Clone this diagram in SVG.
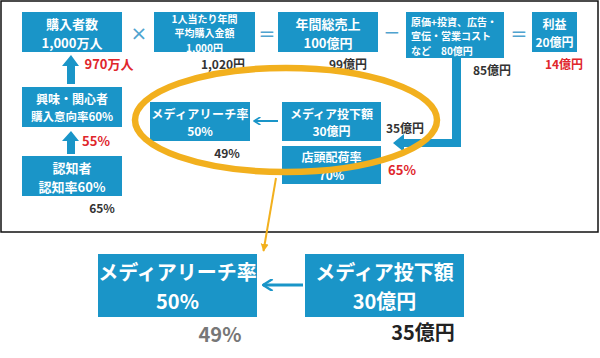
<svg xmlns="http://www.w3.org/2000/svg" width="600" height="358" viewBox="0 0 600 358">
<style>
.box{fill:#1A95C8}
.bt{fill:#fff;font-family:"Noto Sans CJK JP","Noto Sans",sans-serif;font-weight:bold;font-size:12px;text-anchor:middle;dominant-baseline:central}
.bt2{fill:#fff;font-family:"Noto Sans CJK JP","Noto Sans",sans-serif;font-weight:bold;font-size:10px;dominant-baseline:central}
.num{fill:#333;font-family:"Noto Sans CJK JP","Noto Sans",sans-serif;font-size:12px;font-weight:bold;text-anchor:middle;dominant-baseline:central}
.red{fill:#E0262B}
.op{fill:#4FA3CF;font-family:"DejaVu Sans",sans-serif;font-size:20px;text-anchor:middle;dominant-baseline:central}
.big{fill:#fff;font-family:"Noto Sans CJK JP","Noto Sans",sans-serif;font-weight:bold;font-size:20px;text-anchor:middle;dominant-baseline:central}
.bignum{font-family:"Noto Sans CJK JP","Noto Sans",sans-serif;font-size:20px;font-weight:bold;text-anchor:middle;dominant-baseline:central}
</style>
<defs>
<marker id="chev" viewBox="0 0 10 10" refX="9" refY="5" markerWidth="4" markerHeight="4" orient="auto" markerUnits="strokeWidth">
<path d="M1,0 L9,5 L1,10" fill="none" stroke="#1A95C8" stroke-width="2"/>
</marker>
<marker id="oarr" viewBox="0 0 10 10" refX="9" refY="5" markerWidth="4" markerHeight="5" orient="auto" markerUnits="strokeWidth">
<path d="M0,0 L10,5 L0,10 z" fill="#F2B01E"/>
</marker>
</defs>
<rect width="600" height="358" fill="#fff"/>
<rect x="1" y="1" width="597" height="231" fill="none" stroke="#111" stroke-width="1.5"/>

<g id="n1"><rect class="box" x="22" y="12" width="100" height="40"/><text class="bt" style="font-size:13px"><tspan x="72" y="22.5">購入者数</tspan><tspan x="72" y="41.5">1,000万人</tspan></text></g>
<g id="n2"><rect class="box" x="154" y="12" width="101" height="40"/><text class="bt" style="font-size:10px"><tspan x="204.5" y="17.5">1人当たり年間</tspan><tspan x="204.5" y="32">平均購入金額</tspan><tspan x="204.5" y="46.5">1,000円</tspan></text></g>
<g id="n3"><rect class="box" x="278" y="12" width="100" height="40"/><text class="bt" style="font-size:13px"><tspan x="328" y="22.5">年間総売上</tspan><tspan x="328" y="41.5">100億円</tspan></text></g>
<g id="n4"><rect class="box" x="406" y="12" width="98" height="46"/><text class="bt2"><tspan x="411" y="20.5">原価+投資、広告・</tspan><tspan x="411" y="35">宣伝・営業コスト</tspan><tspan x="411" y="49.5">など　80億円</tspan></text></g>
<g id="n5"><rect class="box" x="532" y="12" width="45" height="40"/><text class="bt" style="font-size:12px"><tspan x="554.5" y="23.3">利益</tspan><tspan x="554.5" y="40.8">20億円</tspan></text></g>
<g id="n6"><rect class="box" x="22" y="87" width="100" height="40"/><text class="bt"><tspan x="72" y="98.3">興味・関心者</tspan><tspan x="72" y="115.7" style="font-size:11.5px">購入意向率60%</tspan></text></g>
<g id="n7"><rect class="box" x="22" y="156" width="100" height="40"/><text class="bt" style="font-size:13px"><tspan x="72" y="166.5">認知者</tspan><tspan x="72" y="185.5">認知率60%</tspan></text></g>
<g id="n8"><rect class="box" x="150" y="102" width="100" height="39"/><text class="bt"><tspan x="200" y="112.8" letter-spacing="0.3">メディアリーチ率</tspan><tspan x="200" y="130.2">50%</tspan></text></g>
<g id="n9"><rect class="box" x="282" y="102" width="99" height="39"/><text class="bt"><tspan x="331.5" y="112.8">メディア投下額</tspan><tspan x="331.5" y="130.2">30億円</tspan></text></g>
<g id="n10"><rect class="box" x="282" y="146" width="99" height="38"/><text class="bt"><tspan x="331.5" y="156.3">店頭配荷率</tspan><tspan x="331.5" y="173.7">70%</tspan></text></g>

<g id="ops">
<text class="op" x="139" y="33">×</text>
<text class="op" x="267" y="33">=</text>
<text class="op" x="392" y="32">−</text>
<text class="op" x="519" y="33">=</text>
</g>

<g id="labels">
<text class="num red" x="109" y="63" style="font-size:13px">970万人</text>
<text class="num" x="223" y="63">1,020円</text>
<text class="num" x="348" y="63">99億円</text>
<text class="num" x="492" y="69">85億円</text>
<text class="num red" x="564" y="63">14億円</text>
<text class="num red" x="96" y="140" style="font-size:13px">55%</text>
<text class="num" x="102" y="207">65%</text>
<text class="num" x="227" y="152">49%</text>
<text class="num" x="405" y="127">35億円</text>
<text class="num red" x="402" y="169" style="font-size:13px">65%</text>
</g>

<g id="connectors">
<polygon fill="#1A95C8" points="71,55 79,66 75,66 75,84 67,84 67,66 62,66"/>
<polygon fill="#1A95C8" points="71,131 79,141 75,141 75,154 67,154 67,141 62,141"/>
<polygon fill="#1A95C8" points="452,58 461,58 461,147 404,147 404,152 393,143 404,134 404,139 452,139"/>
<line x1="278" y1="121" x2="254" y2="121" stroke="#1A95C8" stroke-width="2" marker-end="url(#chev)"/>
<line x1="276" y1="178" x2="263.5" y2="251" stroke="#F2B01E" stroke-width="2" marker-end="url(#oarr)"/>
<line x1="303" y1="285" x2="263" y2="285" stroke="#1A95C8" stroke-width="3" marker-end="url(#chev)"/>
</g>

<ellipse cx="286" cy="120" rx="151" ry="52" fill="none" stroke="#F2B01E" stroke-width="6.5"/>

<g id="m1"><rect class="box" x="98" y="254" width="159" height="63"/><text class="big"><tspan x="177.5" y="270.5">メディアリーチ率</tspan><tspan x="177.5" y="299.5">50%</tspan></text></g>
<g id="m2"><rect class="box" x="305" y="254" width="159" height="63"/><text class="big"><tspan x="384.5" y="270.5">メディア投下額</tspan><tspan x="384.5" y="299.5">30億円</tspan></text></g>
<text class="bignum" x="220" y="333" fill="#777">49%</text>
<text class="bignum" x="423" y="331" fill="#222">35億円</text>
</svg>
